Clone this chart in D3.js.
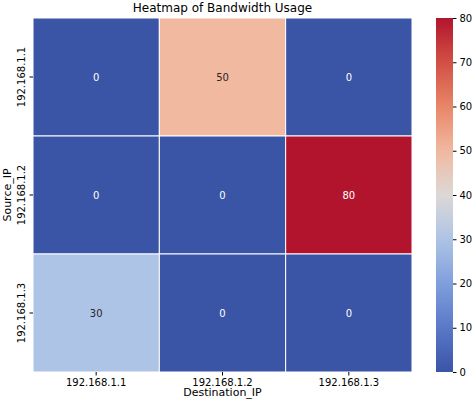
<script src="https://d3js.org/d3.v7.min.js"></script>
<style>body{margin:0;background:#fff}text{font-family:"DejaVu Sans",sans-serif}</style>
<svg id="vis"></svg>
<script>
const sources = ["192.168.1.1", "192.168.1.2", "192.168.1.3"]
const destinations = ["192.168.1.1", "192.168.1.2", "192.168.1.3"]
const values = [[0, 50, 0], [0, 0, 80], [30, 0, 0]]
const cbTicks = [0, 10, 20, 30, 40, 50, 60, 70, 80]

const svg = d3.select('#vis').attr('width', 474).attr('height', 404)
const m = {l: 33, t: 18, r: 412, b: 372}

const coolwarm = d3.scaleLinear()
    .domain([0, .125, .25, .375, .5, .625, .75, .875, 1])
    .range(["#3a54a6", "#5a78c8", "#7f9fdc", "#aec4e6", "#dcd8d6", "#f1b9a0", "#e88668", "#d25044", "#b2142e"])
const color = v => coolwarm(v / 80)

const x = d3.scaleBand().domain(destinations).range([m.l, m.r])
const y = d3.scaleBand().domain(sources).range([m.t, m.b])

const cells = []
values.forEach((row, i) => row.forEach((v, j) => cells.push({s: sources[i], d: destinations[j], v})))

svg.selectAll('rect.cell').data(cells).enter().append('rect')
    .attr('x', d => x(d.d)).attr('y', d => y(d.s))
    .attr('width', x.bandwidth()).attr('height', y.bandwidth())
    .attr('fill', d => color(d.v)).attr('stroke', 'white').attr('stroke-width', 1)

svg.selectAll('text.ann').data(cells).enter().append('text')
    .attr('x', d => x(d.d) + x.bandwidth() / 2).attr('y', d => y(d.s) + y.bandwidth() / 2)
    .attr('text-anchor', 'middle').attr('dominant-baseline', 'central')
    .style('font-size', '10px')
    .attr('fill', d => d.v > 60 || d.v < 20 ? 'white' : '#262626')
    .text(d => d.v)

// axes
svg.append('g').attr('transform', `translate(0,${m.b})`)
    .call(d3.axisBottom(x).tickSize(3.5))
    .call(g => g.select('.domain').remove())
    .selectAll('text').style('font-size', '10px')
svg.append('g').attr('transform', `translate(${m.l},0)`)
    .call(d3.axisLeft(y).tickSize(3.5).tickFormat(''))
    .call(g => g.select('.domain').remove())
svg.selectAll('text.ylab').data(sources).enter().append('text')
    .attr('transform', d => `translate(25,${y(d) + y.bandwidth() / 2}) rotate(-90)`)
    .attr('text-anchor', 'middle').style('font-size', '10px').text(d => d)

svg.append('text').attr('x', (m.l + m.r) / 2).attr('y', 396).attr('text-anchor', 'middle')
    .style('font-size', '11px').text('Destination_IP')
svg.append('text').attr('transform', `translate(11,${(m.t + m.b) / 2}) rotate(-90)`)
    .attr('text-anchor', 'middle').style('font-size', '11px').text('Source_IP')
svg.append('text').attr('x', (m.l + m.r) / 2).attr('y', 12).attr('text-anchor', 'middle')
    .style('font-size', '12px').text('Heatmap of Bandwidth Usage')

// colorbar
const defs = svg.append('defs')
const grad = defs.append('linearGradient').attr('id', 'cb').attr('x1', 0).attr('y1', 1).attr('x2', 0).attr('y2', 0)
d3.range(0, 1.0001, 0.05).forEach(t => grad.append('stop').attr('offset', t).attr('stop-color', coolwarm(t)))
const cy = d3.scaleLinear().domain([0, 80]).range([m.b, m.t])
svg.append('rect').attr('x', 436).attr('y', m.t).attr('width', 17).attr('height', m.b - m.t).attr('fill', 'url(#cb)')
svg.append('g').attr('transform', 'translate(453,0)')
    .call(d3.axisRight(cy).tickValues(cbTicks).tickSize(3.5))
    .call(g => g.select('.domain').remove())
    .selectAll('text').style('font-size', '10px')
</script>
